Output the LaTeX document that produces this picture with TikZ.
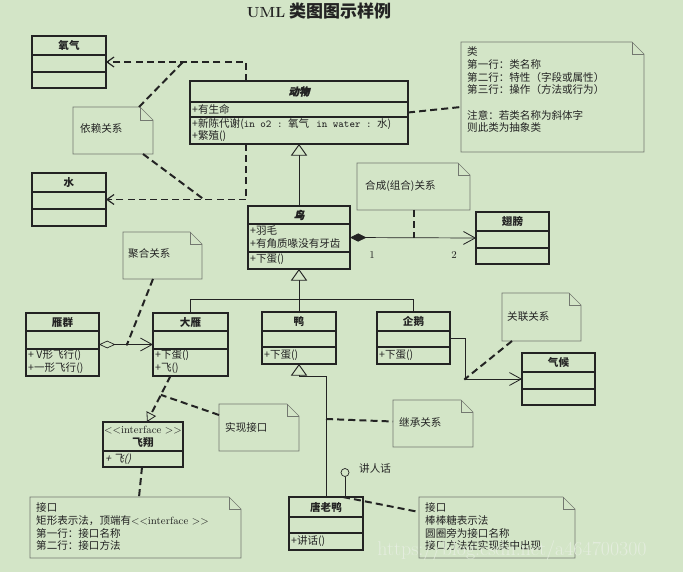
\documentclass[tikz,border=0pt]{standalone}
\usepackage{fontspec}
\usetikzlibrary{arrows.meta,fit,calc}
\newfontfamily\cjk{Noto Sans CJK SC}
\newfontfamily\cjkbi{Noto Sans CJK SC}[FakeSlant=0.22,FakeBold=1.5]
\newfontfamily\cjkit{Noto Sans CJK SC}[FakeSlant=0.22]
\definecolor{bg}{RGB}{211,229,199}
\definecolor{ink}{RGB}{35,35,35}
\definecolor{notec}{RGB}{115,120,112}
\definecolor{wm}{RGB}{228,237,222}
\tikzset{
  clsbox/.style={draw=ink,line width=1pt,inner sep=0pt,outer sep=0pt},
  clsline/.style={draw=ink,line width=0.9pt},
  notebox/.style={inner sep=0pt,outer sep=0pt},
  noteline/.style={draw=notec,line width=0.5pt},
  cname/.style={inner sep=0pt,text=ink,font=\cjk\bfseries\fontsize{9}{11}\selectfont},
  mem/.style={inner sep=0pt,anchor=west,text=ink,font=\cjk\fontsize{9}{11}\selectfont},
  ntext/.style={inner sep=0pt,anchor=west,text=ink,font=\cjk\fontsize{9}{11}\selectfont},
  dsh/.style={draw=ink,line width=1.7pt,dash pattern=on 6pt off 3.5pt},
  dep/.style={dsh,-{Straight Barb[length=6pt,width=8.5pt,line width=1pt]}},
  rel/.style={draw=ink,line width=0.6pt},
  gen/.style={rel,-{Triangle[fill=bg,length=10pt,width=14pt,line width=0.8pt]}},
  real/.style={dsh,-{Triangle[fill=bg,length=8pt,width=9pt,line width=0.7pt]}},
  assoc/.style={rel,-{Straight Barb[length=10pt,width=11pt,line width=0.7pt]}},
  comp/.style={rel,{Diamond[fill=ink,length=14pt,width=7pt,line width=0.6pt]}-{Straight Barb[length=10pt,width=11pt,line width=0.7pt]}},
  agg/.style={rel,{Diamond[fill=bg,length=14pt,width=6.5pt,line width=0.6pt]}-{Straight Barb[length=10pt,width=11pt,line width=0.7pt]}},
}
% name, left, top, right, bottom, divider1, divider2, title
\newcommand\umlcls[8]{%
  \node[clsbox,fit={(#2,#3) (#4,#5)}] (#1) {};
  \draw[clsline] (#2,#6) -- (#4,#6) (#2,#7) -- (#4,#7);
  \node[cname] (#1-t) at ({(#2+#4)/2},{(#3+#6)/2}) {#8};
}
% name, left, top, right, bottom, ear
\newcommand\umlnote[6]{%
  \node[notebox,fit={(#2,#3) (#4,#5)}] (#1) {};
  \draw[noteline] (#2,#3) -- ({#4-#6},#3) -- (#4,{#3+#6}) -- (#4,#5) -- (#2,#5) -- cycle;
  \draw[noteline] ({#4-#6},#3) -- ({#4-#6},{#3+#6}) -- (#4,{#3+#6});
}
\newcommand\stereo{{\rmfamily <{}<interface >{}>}}
\begin{document}
\begin{tikzpicture}[x=0.03cm,y=-0.03cm]
\fill[bg] (0,0) rectangle (683,572);
\useasboundingbox (0,0) rectangle (683,572);

% title
\node[inner sep=0pt,text=ink] (title) at (319,11)
  {{\fontsize{12.5}{14}\selectfont\bfseries UML} {\cjk\bfseries\fontsize{14.5}{16}\selectfont 类图图示样例}};

% classes
\umlcls{oxy}{32}{36}{106}{88}{55}{72}{氧气}
\umlcls{water}{32}{173}{106}{226}{192}{209}{水}
\umlcls{animal}{190}{81}{408}{144}{102}{117}{\cjkbi 动物}
\node[mem] (a1) at (192,109.5) {+有生命};
\node[mem] (a2) at (192,124) {+新陈代谢({\ttfamily in o2 :\ }氧气\ \ \ {\ttfamily in water :\ }水)};
\node[mem] (a3) at (192,136.5) {+繁殖()};

\umlcls{bird}{248}{206}{350}{269}{224}{252}{\cjkbi 鸟}
\node[mem] (b1) at (250,230) {+羽毛};
\node[mem] (b2) at (250,244) {+有角质喙没有牙齿};
\node[mem] (b3) at (250,259.5) {+下蛋()};

\umlcls{wing}{476}{212}{549}{264}{231}{248}{翅膀}

\umlcls{flock}{26}{313}{99}{376}{331}{349}{雁群}
\node[mem] (f1) at (28,355.5) {+ V形飞行()};
\node[mem] (f2) at (28,368) {+一形飞行()};

\umlcls{goose}{153}{313}{228}{376}{331}{349}{大雁}
\node[mem] (g1) at (155,355.5) {+下蛋()};
\node[mem] (g2) at (155,368) {+飞()};

\umlcls{duck}{262}{312}{336}{364}{331}{347}{鸭}
\node[mem] (d1) at (264,355.5) {+下蛋()};

\umlcls{penguin}{377}{312}{450}{364}{331}{347}{企鹅}
\node[mem] (p1) at (379,355.5) {+下蛋()};

\umlcls{climate}{522}{353}{595}{405}{372}{389}{气候}

\umlcls{tang}{289}{497}{363}{550}{517}{533}{唐老鸭}
\node[mem] (t1) at (291,541.5) {+讲话()};

% interface class
\node[clsbox,fit={(103,422) (183,467)}] (fly) {};
\draw[clsline] (103,451) -- (183,451);
\node[inner sep=0pt,text=ink,font=\fontsize{9}{11}\selectfont] (fly-s) at (143,430.5) {\stereo};
\node[cname] (fly-t) at (143,442.5) {飞翔};
\node[mem] (fly-m) at (105,459) {\cjkit + 飞()};

% notes
\umlnote{dnote}{73}{107}{153}{154}{13}
\node[ntext] (dnote-t) at (80,129) {依赖关系};

\umlnote{classnote}{461}{42}{644}{152}{12}
\node[ntext] (cn1) at (467,52) {类};
\node[ntext] (cn2) at (467,64) {第一行：类名称};
\node[ntext] (cn3) at (467,77) {第二行：特性（字段或属性）};
\node[ntext] (cn4) at (467,89.5) {第三行：操作（方法或行为）};
\node[ntext] (cn5) at (467,115) {注意：若类名称为斜体字};
\node[ntext] (cn6) at (467,127) {则此类为抽象类};

\umlnote{cnote}{357}{163}{470}{210}{12}
\node[ntext] (cnote-t) at (365,186) {合成(组合)关系};

\umlnote{anote}{123}{232}{202}{279}{12}
\node[ntext] (anote-t) at (128,254) {聚合关系};

\umlnote{glnote}{502}{293}{581}{341}{12}
\node[ntext] (glnote-t) at (507,317) {关联关系};

\umlnote{rnote}{219}{404}{299}{451}{12}
\node[ntext] (rnote-t) at (225,427) {实现接口};

\umlnote{inote}{393}{400}{473}{447}{12}
\node[ntext] (inote-t) at (399,422) {继承关系};

\umlnote{lnote}{30}{497}{241}{558}{12}
\node[ntext] (ln1) at (36,507.5) {接口};
\node[ntext] (ln2) at (36,520.5) {矩形表示法，顶端有\stereo};
\node[ntext] (ln3) at (36,533) {第一行：接口名称};
\node[ntext] (ln4) at (36,545.5) {第二行：接口方法};

\umlnote{r2note}{419}{497}{575}{558}{12}
\node[ntext] (rn1) at (425,507.5) {接口};
\node[ntext] (rn2) at (425,520.5) {棒棒糖表示法};
\node[ntext] (rn3) at (425,533) {圆圈旁为接口名称};
\node[ntext] (rn4) at (425,545.5) {接口方法在实现类中出现};

% dependencies
\draw[dep] ([shift={(-53,0)}]animal.north) |- (oxy.east);
\draw[dep] ([shift={(-53,0)}]animal.south) |- (water.east);
\coordinate (dp1) at (183,62);
\coordinate (dp2) at (204,199.5);
\draw[dsh] ([shift={(-14,0)}]dnote.north east) -- (dp1);
\draw[dsh] ([shift={(-10,0)}]dnote.south east) -- (dp2);

% class note
\draw[dsh] (animal.east) -- ([shift={(0,10)}]classnote.west);

% generalization animal - bird
\draw[gen] (bird.north) -- (animal.south);

% composition
\draw[comp] (bird.east) -- (wing.west);
\node[inner sep=0pt,text=ink,font=\rmfamily\fontsize{9}{11}\selectfont] (m1) at (372,255) {1};
\node[inner sep=0pt,text=ink,font=\rmfamily\fontsize{9}{11}\selectfont] (m2) at (454,255) {2};
\coordinate (cp) at (413.5,238);
\draw[dsh] (cnote.south) -- (cp);

% generalization bird - goose, duck, penguin
\coordinate (j) at (299,299);
\draw[gen] (j) -- (bird.south);
\draw[rel] (goose.north) -- (goose.north |- j) -- (penguin.north |- j) -- (penguin.north);
\draw[rel] (duck.north) -- (j);

% aggregation
\draw[agg] (flock.east) -- (goose.west);
\coordinate (ag) at (127,344.5);
\draw[dsh] ([shift={(-9.5,0)}]anote.south) -- (ag);
\fill[ink] (ag) circle (1.1pt);

% association
\coordinate (ap) at (465,379);
\draw[assoc] (penguin.east) -- (penguin.east -| ap) |- (climate.west);
\draw[dsh] ([shift={(-29.5,0)}]glnote.south) -- (ap);
\fill[ink] (ap) circle (1.1pt);

% realization
\draw[real] ([shift={(-20,0)}]goose.south) -- ([shift={(4,0)}]fly.north);
\coordinate (rp) at ($([shift={(-20,0)}]goose.south)!0.41!([shift={(4,0)}]fly.north)$);
\draw[dsh] ([shift={(0,-12.5)}]rnote.west) -- (rp);

% interface note (left)
\draw[dsh] ([shift={(-1,0)}]fly.south) -- ([shift={(3.5,0)}]lnote.north);

% generalization duck - tang
\coordinate (k) at (299,376);
\draw[gen] (tang.north) -- (tang.north |- k) -- (k) -- (duck.south);
\coordinate (ip) at (326,419);
\draw[dsh] (ip) -- ([shift={(0,-2)}]inote.west);

% lollipop
\node[circle,draw=ink,line width=0.6pt,minimum size=0.24cm,inner sep=0pt] (lolli) at (345,472.5) {};
\draw[rel] (lolli.south) -- ([shift={(19,0)}]tang.north);
\node[ntext] (ltxt) at (359,468.5) {讲人话};
\draw[dsh] ([shift={(17,0)}]tang.north) -- ([shift={(0,-15.5)}]r2note.west);

% watermark
\node[inner sep=0pt,text=wm,font=\rmfamily\fontsize{17}{19}\selectfont] (wmark) at (512,551) {https://blog.csdn.net/a464700300};
\end{tikzpicture}
\end{document}
